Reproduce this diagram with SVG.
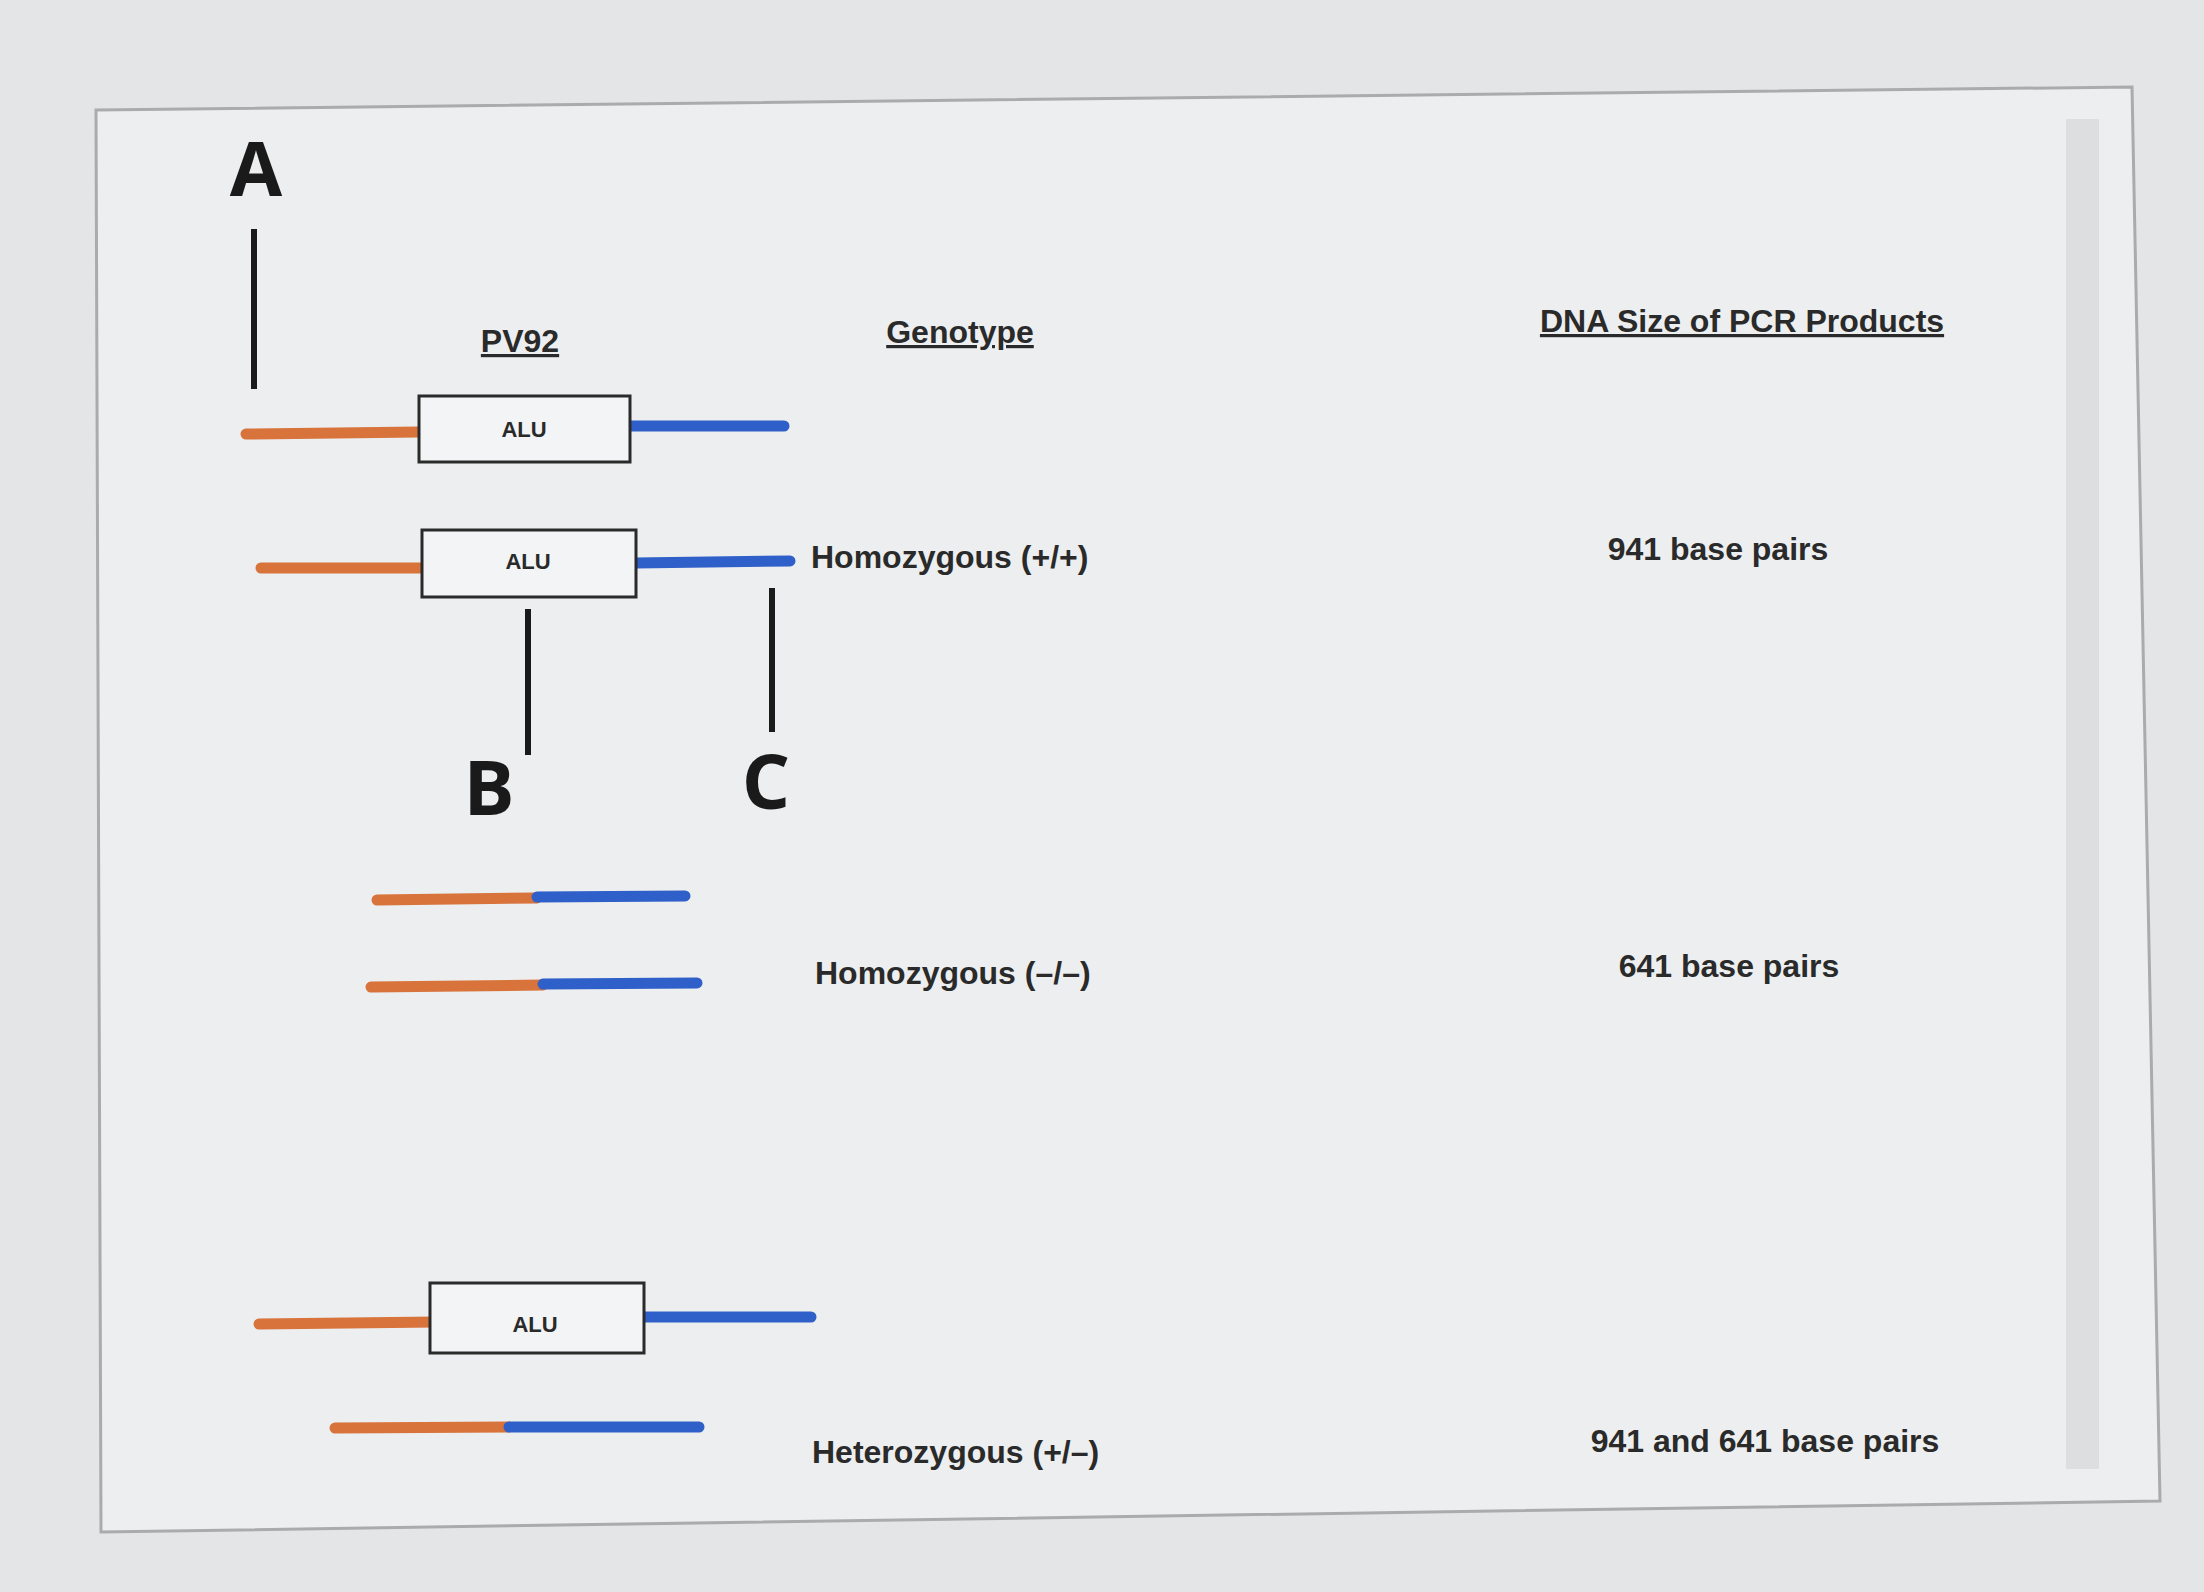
<svg xmlns="http://www.w3.org/2000/svg" width="2204" height="1592" viewBox="0 0 2204 1592">
<style>
.t{font-family:"Liberation Sans",Arial,sans-serif;font-weight:bold;fill:#2a2a2a;font-size:32px}
.h{text-decoration:underline}
.alu{font-family:"Liberation Sans",Arial,sans-serif;font-weight:bold;fill:#2a2a2a;font-size:22px;text-anchor:middle}
.big{font-family:"Open Sans","DejaVu Sans",sans-serif;font-weight:bold;fill:#1a1a1a;font-size:76px;text-anchor:middle}
.o{stroke:#d8733b;stroke-width:11;stroke-linecap:round}
.b{stroke:#2f5fc8;stroke-width:11;stroke-linecap:round}
.k{stroke:#1a1a1a;stroke-width:6}
.box{fill:#f3f4f5;stroke:#2a2a2a;stroke-width:3}
</style>
<rect width="2204" height="1592" fill="#e3e5e7"/>
<polygon points="96,110 2132,87 2160,1501 101,1532" fill="#eceeef" stroke="#a9abad" stroke-width="3"/>
<rect x="2066" y="119" width="33" height="1350" fill="#dcdedf"/>
<g id="labels">
<text class="big" x="256" y="196">A</text>
<text class="big" x="489" y="815">B</text>
<text class="big" x="766" y="809">C</text>
<text class="t h" x="520" y="352" text-anchor="middle">PV92</text>
<text class="t h" x="960" y="343" text-anchor="middle">Genotype</text>
<text class="t h" x="1742" y="332" text-anchor="middle">DNA Size of PCR Products</text>
<text class="t" x="811" y="568">Homozygous (+/+)</text>
<text class="t" x="1718" y="560" text-anchor="middle">941 base pairs</text>
<text class="t" x="815" y="984">Homozygous (–/–)</text>
<text class="t" x="1729" y="977" text-anchor="middle">641 base pairs</text>
<text class="t" x="812" y="1463">Heterozygous (+/–)</text>
<text class="t" x="1765" y="1452" text-anchor="middle">941 and 641 base pairs</text>
</g>
<g id="connectors">
<line class="k" x1="254" y1="229" x2="254" y2="389"/>
<line class="k" x1="528" y1="609" x2="528" y2="755"/>
<line class="k" x1="772" y1="588" x2="772" y2="732"/>
<line class="o" x1="246" y1="434" x2="419" y2="432"/>
<line class="b" x1="630" y1="426" x2="784" y2="426"/>
<line class="o" x1="261" y1="568" x2="422" y2="568"/>
<line class="b" x1="635" y1="563" x2="790" y2="561"/>
<line class="o" x1="377" y1="900" x2="537" y2="898"/>
<line class="b" x1="537" y1="897" x2="685" y2="896"/>
<line class="o" x1="371" y1="987" x2="543" y2="985"/>
<line class="b" x1="543" y1="984" x2="697" y2="983"/>
<line class="o" x1="259" y1="1324" x2="436" y2="1322"/>
<line class="b" x1="644" y1="1317" x2="811" y2="1317"/>
<line class="o" x1="335" y1="1428" x2="509" y2="1427"/>
<line class="b" x1="509" y1="1427" x2="699" y2="1427"/>
</g>
<g id="alu1"><rect class="box" x="419" y="396" width="211" height="66"/><text class="alu" x="524" y="437">ALU</text></g>
<g id="alu2"><rect class="box" x="422" y="530" width="214" height="67"/><text class="alu" x="528" y="569">ALU</text></g>
<g id="alu3"><rect class="box" x="430" y="1283" width="214" height="70"/><text class="alu" x="535" y="1332">ALU</text></g>
</svg>
